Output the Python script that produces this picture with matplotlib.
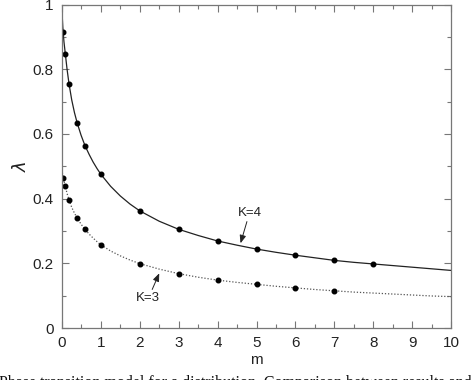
import matplotlib
matplotlib.use("Agg")
import matplotlib.pyplot as plt
from matplotlib.ticker import MultipleLocator

# Data
m_pts4 = [0.03, 0.085, 0.18, 0.39, 0.59, 1, 2, 3, 4, 5, 6, 7, 8]
lam_pts4 = [0.914, 0.848, 0.755, 0.634, 0.564, 0.475, 0.362, 0.305, 0.269, 0.244, 0.225, 0.209, 0.198]
m_pts3 = [0.03, 0.085, 0.18, 0.39, 0.59, 1, 2, 3, 4, 5, 6, 7]
lam_pts3 = [0.465, 0.438, 0.396, 0.340, 0.305, 0.257, 0.199, 0.168, 0.148, 0.135, 0.124, 0.115]

m_curve = [0.0, 0.003, 0.01, 0.02, 0.03, 0.05, 0.085, 0.13, 0.18, 0.25, 0.32, 0.39, 0.49, 0.59,
           0.7, 0.8, 0.9, 1.0, 1.25, 1.5, 1.75, 2.0, 2.5, 3.0, 3.5, 4.0, 4.5, 5.0, 5.5, 6.0,
           6.5, 7.0, 7.5, 8.0, 8.5, 9.0, 9.5, 10.0]
lam_curve4 = [1.0, 0.975, 0.955, 0.932, 0.914, 0.885, 0.848, 0.800, 0.755, 0.705, 0.666, 0.634, 0.596, 0.564,
              0.536, 0.513, 0.493, 0.475, 0.438, 0.408, 0.383, 0.362, 0.330, 0.305, 0.286, 0.269, 0.256, 0.244, 0.234, 0.225,
              0.217, 0.209, 0.203, 0.198, 0.193, 0.188, 0.183, 0.178]
lam_curve3 = [0.500, 0.490, 0.480, 0.472, 0.465, 0.455, 0.438, 0.416, 0.396, 0.373, 0.355, 0.340, 0.321, 0.305,
              0.290, 0.278, 0.267, 0.257, 0.238, 0.223, 0.210, 0.199, 0.182, 0.168, 0.157, 0.148, 0.141, 0.135, 0.129, 0.124,
              0.119, 0.115, 0.111, 0.108, 0.105, 0.102, 0.099, 0.097]

x_ticks = [0, 1, 2, 3, 4, 5, 6, 7, 8, 9, 10]
y_ticks = [0, 0.2, 0.4, 0.6, 0.8, 1.0]
y_ticklabels = ["0", "0.2", "0.4", "0.6", "0.8", "1"]

plt.rcParams['font.family'] = ['Liberation Sans', 'DejaVu Sans']

fig = plt.figure(figsize=(4.74, 3.80), dpi=100)
ax = fig.add_axes([62/474, 1-328/380, (451-62)/474, (328-4.5)/380])

ax.plot(m_curve, lam_curve4, color='#222222', lw=0.9, ls='-')
ax.plot(m_curve, lam_curve3, color='#555555', lw=0.9, ls=(0, (1, 1.5)))
ax.plot(m_pts4, lam_pts4, 'o', color='black', ms=3.3, ls='none')
ax.plot(m_pts3, lam_pts3, 'o', color='black', ms=3.3, ls='none')

ax.set_xlim(0, 10)
ax.set_ylim(0, 1)
ax.set_xticks(x_ticks)
ax.set_xticklabels([str(t) for t in x_ticks])
ax.set_yticks(y_ticks)
ax.set_yticklabels(y_ticklabels)
ax.xaxis.set_minor_locator(MultipleLocator(0.5))
ax.yaxis.set_minor_locator(MultipleLocator(0.1))
ax.tick_params(which='both', direction='in', top=True, right=True, color='#777777',
               labelsize=11, labelcolor='#222222', width=0.8)
ax.tick_params(which='major', length=5, pad=6)
ax.tick_params(which='minor', length=3)
for s in ax.spines.values():
    s.set_color('#777777')
    s.set_linewidth(0.9)

ax.set_xlabel('m', fontsize=11, color='#222222', labelpad=2)
ax.set_ylabel(r'$\lambda$', fontsize=13, color='#222222', labelpad=2)

arrow = dict(arrowstyle='-|>,head_length=0.5,head_width=0.2', color='#222222', lw=0.7,
             shrinkA=0, shrinkB=0)
ax.annotate('K=4', xy=(4.59, 0.262), xytext=(4.82, 0.356), ha='center', va='center',
            fontsize=9.5, color='#222222', arrowprops=arrow)
ax.annotate('K=3', xy=(2.50, 0.169), xytext=(2.22, 0.092), ha='center', va='center',
            fontsize=9.5, color='#222222', arrowprops=arrow)

fig.text(-0.002, 1-375/380, 'Phase transition model for a distribution. Comparison between results and dotted lines',
         fontsize=11.5, family=['Liberation Serif', 'DejaVu Serif'], va='top', ha='left', color='#111111')

fig.savefig('out.png', dpi=100)
